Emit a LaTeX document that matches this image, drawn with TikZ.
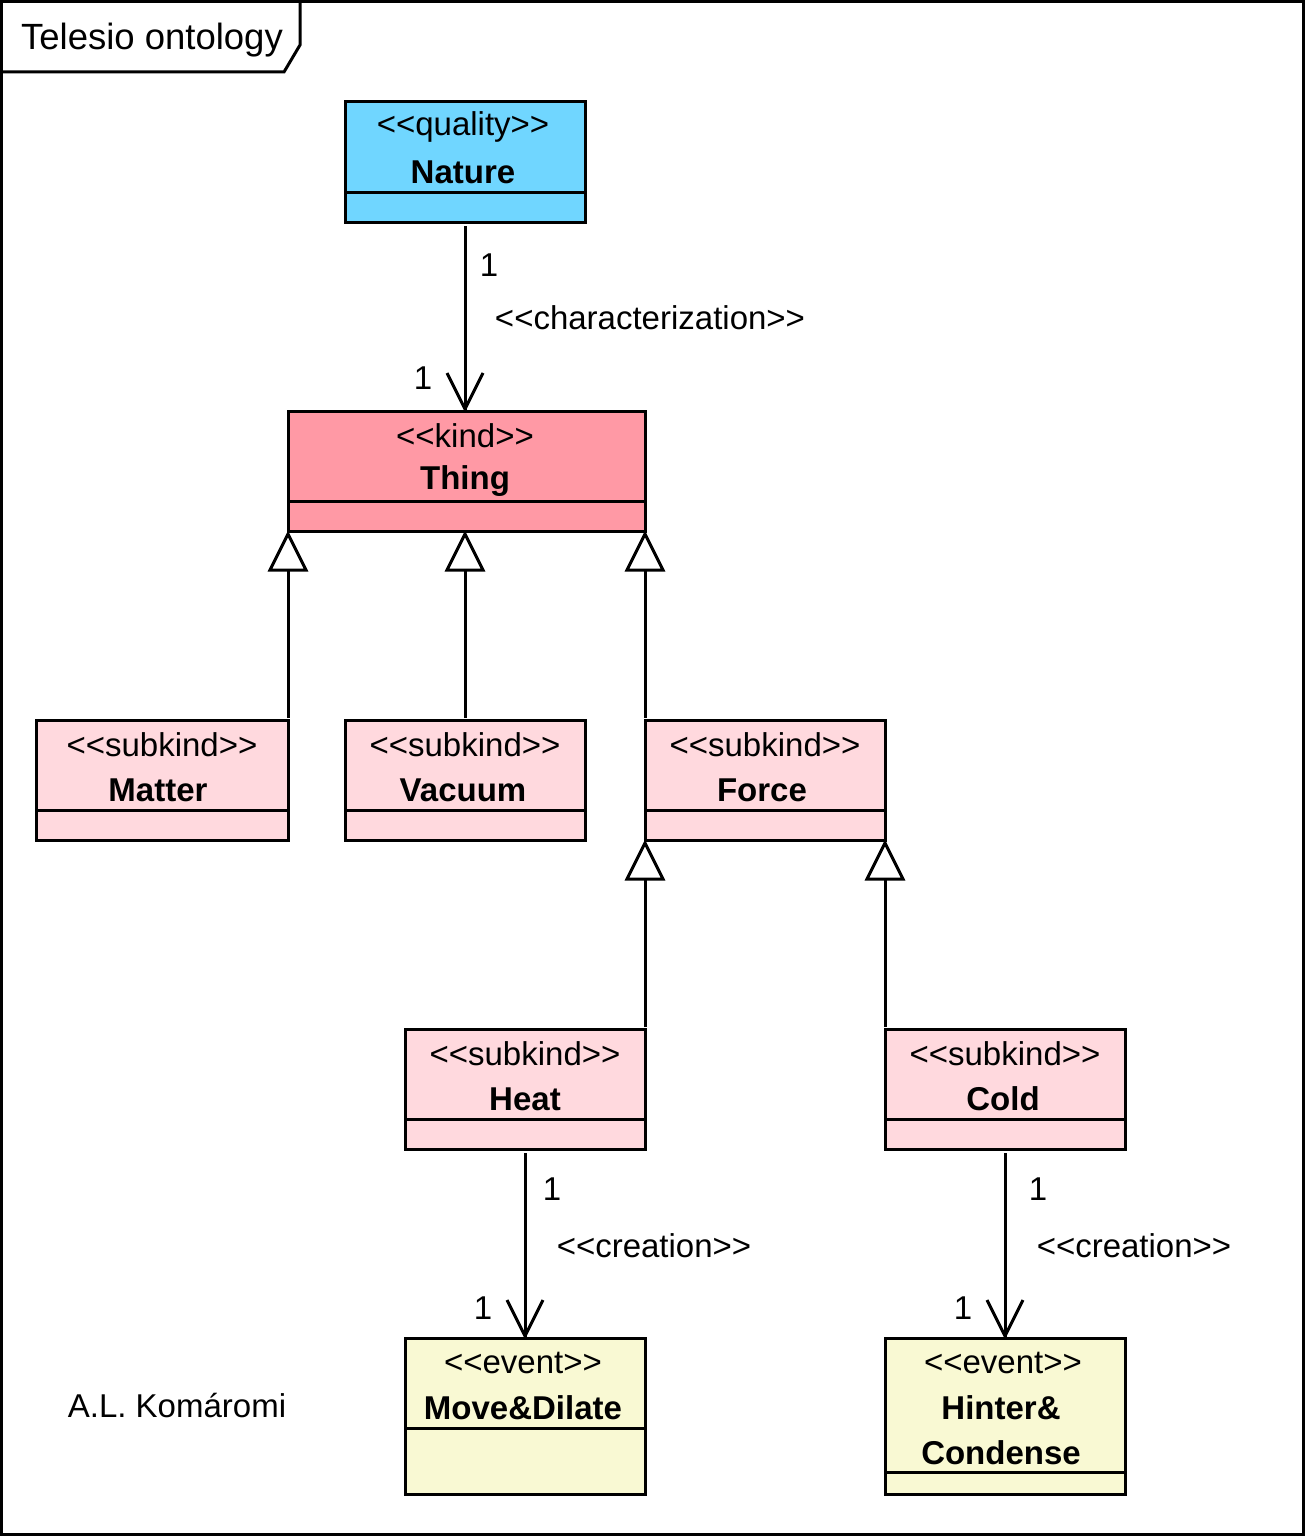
\documentclass[tikz,border=0pt]{standalone}
\usepackage{fontspec}
\setmainfont{Liberation Sans}
\begin{document}
\begin{tikzpicture}[x=1pt,y=-1pt,
  ln/.style={line width=3pt},
  txt/.style={font=\fontsize{33}{33}\selectfont, inner sep=0pt, anchor=center},
  bname/.style={font=\fontsize{33}{33}\selectfont\bfseries, inner sep=0pt, anchor=center},
  gen/.style={ln, fill=white, line join=miter},
]
\definecolor{cyanq}{HTML}{70D6FF}
\definecolor{kindc}{HTML}{FF99A5}
\definecolor{subc}{HTML}{FFD9DE}
\definecolor{evc}{HTML}{F9F9D3}
\useasboundingbox (0,0) rectangle (1305,1536);
% frame
\draw[ln] (1.5,1.5) rectangle (1303,1534);
\draw[ln] (1.5,72) -- (284,72) -- (300,45) -- (300,1.5);
\node[txt, font=\fontsize{36.5}{36.5}\selectfont] (title) at (152,40) {Telesio ontology};

\newcommand{\umlbox}[7]{%
  \fill[#7] (#2,#3) rectangle (#4,#5);
  \draw[ln] (#2,#6) -- (#4,#6);
  \draw[ln] (#2,#3) rectangle (#4,#5);
  \coordinate (#1-nw) at (#2,#3);
}
% Nature
\umlbox{nat}{345}{102}{585}{222}{192}{cyanq}
\node[txt] (natS) at (463,127) {<{}<quality>{}>};
\node[bname] (natN) at (463,172) {Nature};
% Thing
\umlbox{thing}{288}{411}{645}{531}{501}{kindc}
\node[txt] (thS) at (465,436) {<{}<kind>{}>};
\node[bname] (thN) at (465,481) {Thing};
% Matter
\umlbox{mat}{36}{720}{288}{840}{810}{subc}
\node[txt] (matS) at (162,745) {<{}<subkind>{}>};
\node[bname] (matN) at (158,790) {Matter};
% Vacuum
\umlbox{vac}{345}{720}{585}{840}{810}{subc}
\node[txt] (vacS) at (465,745) {<{}<subkind>{}>};
\node[bname] (vacN) at (463,790) {Vacuum};
% Force
\umlbox{for}{645}{720}{885}{840}{810}{subc}
\node[txt] (forS) at (765,745) {<{}<subkind>{}>};
\node[bname] (forN) at (762,790) {Force};
% Heat
\umlbox{heat}{405}{1029}{645}{1149}{1119}{subc}
\node[txt] (heS) at (525,1054) {<{}<subkind>{}>};
\node[bname] (heN) at (525,1099) {Heat};
% Cold
\umlbox{cold}{885}{1029}{1125}{1149}{1119}{subc}
\node[txt] (coS) at (1005,1054) {<{}<subkind>{}>};
\node[bname] (coN) at (1003,1099) {Cold};
% Move&Dilate
\umlbox{mov}{405}{1338}{645}{1494}{1428}{evc}
\node[txt] (mvS) at (523,1363) {<{}<event>{}>};
\node[bname] (mvN) at (523,1408) {Move\&Dilate};
% Hinter&Condense
\umlbox{hin}{885}{1338}{1125}{1494}{1472}{evc}
\node[txt] (hiS) at (1003,1363) {<{}<event>{}>};
\node[bname] (hiN) at (1001,1408) {Hinter\&};
\node[bname] (hiN2) at (1001,1453) {Condense};

% generalizations
\newcommand{\genarrow}[3]{%
  \draw[ln] (#1,#3) -- (#1,#2+38);
  \draw[gen] (#1,#2+3) -- (#1-18,#2+39) -- (#1+18,#2+39) -- cycle;
}
\genarrow{288}{531}{718}
\genarrow{465}{531}{718}
\genarrow{645}{531}{718}
\genarrow{645}{840}{1027}
\genarrow{885}{840}{1027}

% associations
\newcommand{\assocarrow}[3]{%
  \draw[ln] (#1,#2) -- (#1,#3-1);
  \draw[ln, line join=miter] (#1-18,#3-38) -- (#1,#3-2) -- (#1+18,#3-38);
}
\assocarrow{465}{226}{411}
\assocarrow{525}{1153}{1338}
\assocarrow{1005}{1153}{1338}

\node[txt] (l1) at (489,265) {1};
\node[txt] (l2) at (650,318) {<{}<characterization>{}>};
\node[txt] (l3) at (423,378) {1};
\node[txt] (l4) at (552,1189) {1};
\node[txt] (l5) at (654,1246) {<{}<creation>{}>};
\node[txt] (l6) at (483,1308) {1};
\node[txt] (l7) at (1038,1189) {1};
\node[txt] (l8) at (1134,1246) {<{}<creation>{}>};
\node[txt] (l9) at (963,1308) {1};

\node[txt] (auth) at (177,1405) {A.L. Komáromi};
\end{tikzpicture}
\end{document}
